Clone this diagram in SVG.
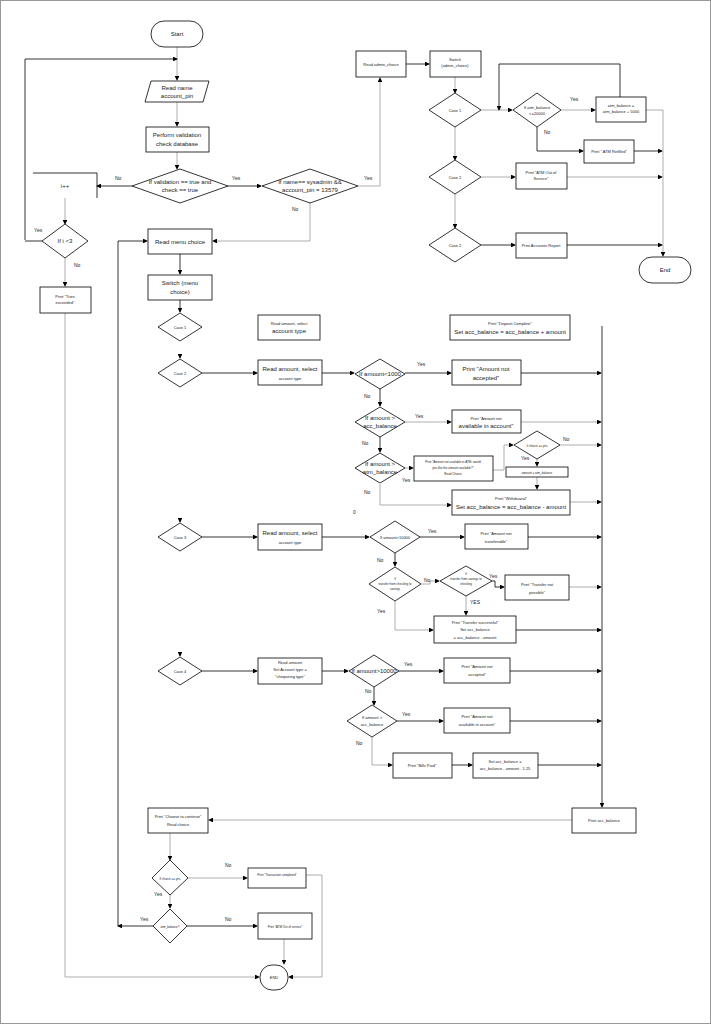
<svg xmlns="http://www.w3.org/2000/svg" width="711" height="1024" viewBox="0 0 711 1024">
<defs><marker id="a" markerWidth="6" markerHeight="6" refX="5" refY="3" orient="auto"><path d="M0,0L6,3L0,6z" fill="#000"/></marker></defs>
<style>
.n{fill:#fff;stroke:#000;stroke-width:0.8}
.c{fill:none;stroke:#000;stroke-width:0.8;marker-end:url(#a)}
.g{fill:none;stroke:#999;stroke-width:0.8;marker-end:url(#a)}
.p{fill:none;stroke:#000;stroke-width:0.8}
text{font-family:"Liberation Sans",Arial,sans-serif;font-size:6px;fill:#222;text-anchor:middle}
.s{font-size:4px}
.l{font-size:5px;text-anchor:start}
</style>
<rect x="0.5" y="0.5" width="710" height="1023" fill="#fff" stroke="#999"/>
<g id="connectors">
<path class="g" d="M177,47V80"/><path class="c" d="M25,240V59H177"/><path class="g" d="M177,102V126"/>
<path class="g" d="M177,152V169"/><path class="c" d="M132,186H97"/><path class="p" d="M33,173H97V198"/>
<path class="g" d="M65,198V224"/><path class="p" d="M42,241H25"/><path class="g" d="M65,258V286"/>
<path class="g" d="M65,313V977H259"/><path class="c" d="M228,186H261"/><path class="g" d="M310,203V241H213"/>
<path class="g" d="M358,186H380V78"/><path class="c" d="M406,64H429"/><path class="g" d="M455,77V93"/>
<path class="g" d="M455,127V160"/><path class="g" d="M455,194V228"/><path class="g" d="M481,110H512"/>
<path class="c" d="M620,97V64H499V110"/><path class="g" d="M561,110H595"/><path class="c" d="M537,127V151H583"/>
<path class="c" d="M634,151H662"/><path class="g" d="M646,110H663V256"/><path class="g" d="M481,177H515"/>
<path class="g" d="M567,177H662"/><path class="c" d="M481,245H515"/><path class="c" d="M567,245H662"/>
<path class="c" d="M118,926V241H147"/><path class="c" d="M180,254V274"/><path class="c" d="M180,300V312"/>
<path class="c" d="M180,357V358"/><path class="c" d="M180,520V522"/><path class="c" d="M180,654V656"/>
<path class="p" d="M602,326V806"/><path class="c" d="M602,806V807"/>
<path class="c" d="M202,373H257"/><path class="c" d="M322,373H354"/><path class="c" d="M405,373H451"/><path class="c" d="M521,373H601"/>
<path class="c" d="M380,389V406"/><path class="g" d="M405,422H451"/><path class="g" d="M521,422H601"/>
<path class="c" d="M380,437V452"/><path class="g" d="M405,468H413"/><path class="g" d="M493,470H504V445H513"/>
<path class="g" d="M560,445H601"/><path class="g" d="M537,459V466"/><path class="g" d="M537,477V489"/>
<path class="g" d="M380,484V505H451"/><path class="g" d="M570,502H601"/>
<path class="c" d="M202,537H257"/><path class="c" d="M322,537H369"/><path class="c" d="M420,537H464"/><path class="c" d="M528,537H601"/>
<path class="c" d="M395,553V566"/><path class="g" d="M421,584H430V581H439"/><path class="c" d="M492,581H495V587H504"/><path class="g" d="M569,587H601"/>
<path class="g" d="M466,596V615"/><path class="g" d="M395,601V630H433"/><path class="c" d="M516,630H601"/>
<path class="c" d="M202,671H257"/><path class="c" d="M322,671H348"/><path class="c" d="M399,671H443"/><path class="c" d="M510,671H601"/>
<path class="c" d="M374,687V705"/><path class="c" d="M397,721H443"/><path class="c" d="M510,721H601"/>
<path class="g" d="M372,737V765H392"/><path class="c" d="M452,765H472"/><path class="c" d="M538,765H601"/>
<path class="g" d="M572,820H209"/><path class="g" d="M170,833V860"/><path class="g" d="M188,878H247"/>
<path class="g" d="M306,875H322V977H289"/><path class="g" d="M170,895V908"/><path class="c" d="M153,926H118"/>
<path class="c" d="M187,926H257"/><path class="g" d="M284,939V964"/>
</g>
<g id="start"><rect class="n" x="151" y="21" width="52" height="26" rx="13"/><text x="177" y="36">Start</text></g>
<g id="readname"><path class="n" d="M151,81H209L203,102H145z"/><text x="177" y="90">Read name</text><text x="177" y="98">account_pin</text></g>
<g id="validate"><rect class="n" x="146" y="127" width="63" height="25"/><text x="177" y="137">Perform validation</text><text x="177" y="146">check database</text></g>
<g id="ifvalid"><path class="n" d="M180,169L228,186L180,203L132,186z"/><text x="180" y="184">If validation == true and</text><text x="180" y="192">check == true</text></g>
<g id="inc"><text x="65" y="188">i++</text></g>
<g id="ifsys"><path class="n" d="M310,169L358,186L310,203L262,186z"/><text x="310" y="184">If name== sysadmin &amp;&amp;</text><text x="310" y="192">account_pin = 13579</text></g>
<g id="ilt3"><path class="n" d="M65,224L88,241L65,258L42,241z"/><text x="65" y="243">If i &lt;3</text></g>
<g id="tries"><rect class="n" x="40" y="287" width="51" height="26"/><text x="65" y="298" class="s">Print "Tries</text><text x="65" y="304" class="s">exceeded"</text></g>
<g id="readadmin"><rect class="n" x="356" y="51" width="50" height="26"/><text x="381" y="66" class="s">Read admin_choice</text></g>
<g id="switchadmin"><rect class="n" x="430" y="51" width="51" height="26"/><text x="455" y="61" class="s">Switch</text><text x="455" y="67" class="s">(admin_choice)</text></g>
<g id="acase1"><path class="n" d="M455,93L481,110L455,127L429,110z"/><text x="455" y="112" class="s">Case 1</text></g>
<g id="acase2"><path class="n" d="M455,160L481,177L455,194L429,177z"/><text x="455" y="179" class="s">Case 2</text></g>
<g id="acase3"><path class="n" d="M455,228L481,245L455,262L429,245z"/><text x="455" y="247" class="s">Case 2</text></g>
<g id="ifatm"><path class="n" d="M537,93L561,110L537,127L513,110z"/><text x="537" y="109" class="s">If atm_balance</text><text x="537" y="115" class="s">&lt;=20000</text></g>
<g id="refill"><rect class="n" x="596" y="97" width="50" height="25"/><text x="621" y="107" class="s">atm_balance =</text><text x="621" y="113" class="s">atm_balance + 5000</text></g>
<g id="refilled"><rect class="n" x="584" y="140" width="50" height="23"/><text x="609" y="153" class="s">Print " ATM Refilled"</text></g>
<g id="outservice"><rect class="n" x="516" y="163" width="51" height="26"/><text x="541" y="174" class="s">Print "ATM Out of</text><text x="541" y="180" class="s">Service"</text></g>
<g id="report"><rect class="n" x="516" y="233" width="51" height="25"/><text x="541" y="247" class="s">Print Accounts Report</text></g>
<g id="endadmin"><rect class="n" x="639" y="257" width="52" height="26" rx="13"/><text x="665" y="272">End</text></g>
<g id="menu"><rect class="n" x="148" y="229" width="64" height="25"/><text x="180" y="244">Read menu choice</text></g>
<g id="switchmenu"><rect class="n" x="148" y="275" width="64" height="25"/><text x="180" y="285">Switch (menu</text><text x="180" y="294">choice)</text></g>
<g id="case1"><path class="n" d="M180,313L202,327L180,341L158,327z"/><text x="180" y="329" class="s">Case 1</text></g>
<g id="dep1"><rect class="n" x="258" y="315" width="62" height="25"/><text x="289" y="325" class="s">Read amount, select</text><text x="289" y="333">account type</text></g>
<g id="dep2"><rect class="n" x="450" y="315" width="120" height="25"/><text x="510" y="325" class="s">Print "Deposit Complete"</text><text x="510" y="334">Set acc_balance = acc_balance + amount</text></g>
<g id="case2"><path class="n" d="M180,359L202,373L180,387L158,373z"/><text x="180" y="375" class="s">Case 2</text></g>
<g id="wd1"><rect class="n" x="258" y="360" width="64" height="25"/><text x="290" y="371">Read amount, select</text><text x="290" y="380" class="s">account type</text></g>
<g id="wd2"><path class="n" d="M380,359L405,374L380,389L355,374z"/><text x="380" y="376">If amount&lt;1000</text></g>
<g id="wd3"><rect class="n" x="452" y="360" width="69" height="25"/><text x="486" y="371">Print "Amount not</text><text x="486" y="380">accepted"</text></g>
<g id="wd4"><path class="n" d="M380,407L405,422L380,437L355,422z"/><text x="380" y="420">If amount &gt;</text><text x="380" y="428">acc_balance</text></g>
<g id="wd5"><rect class="n" x="452" y="410" width="69" height="23"/><text x="486" y="420" class="s">Print "Amount not</text><text x="486" y="428">available in account"</text></g>
<g id="wd6"><path class="n" d="M380,453L405,468L380,483L355,468z"/><text x="380" y="466">If amount &gt;</text><text x="380" y="474">atm_balance</text></g>
<g id="wd7"><rect class="n" x="414" y="456" width="79" height="25"/><text x="453" y="463" style="font-size:3px">Print "Amount not available in ATM. would</text><text x="453" y="469" style="font-size:3px">you like the amount available?"</text><text x="453" y="475" style="font-size:3px">Read Choice</text></g>
<g id="wd8"><path class="n" d="M537,431L560,445L537,459L514,445z"/><text x="537" y="447" style="font-size:3px">if choice == yes</text></g>
<g id="wd9"><rect class="n" x="506" y="467" width="62" height="10"/><text x="537" y="474" style="font-size:3px">amount = atm_balance</text></g>
<g id="wd10"><rect class="n" x="452" y="490" width="118" height="25"/><text x="511" y="500" class="s">Print "Withdrawal"</text><text x="511" y="509">Set acc_balance = acc_balance - amount</text></g>
<g id="case3"><path class="n" d="M180,523L202,537L180,551L158,537z"/><text x="180" y="539" class="s">Case 3</text></g>
<g id="tr1"><rect class="n" x="258" y="524" width="64" height="26"/><text x="290" y="535">Read amount, select</text><text x="290" y="544" class="s">account type</text></g>
<g id="tr2"><path class="n" d="M395,521L420,537L395,553L370,537z"/><text x="395" y="539" class="s">If amount&gt;10000</text></g>
<g id="tr3"><rect class="n" x="465" y="524" width="63" height="25"/><text x="496" y="535" class="s">Print "Amount not</text><text x="496" y="543" class="s">transferable"</text></g>
<g id="tr4"><path class="n" d="M395,567L421,584L395,601L369,584z"/><text x="395" y="580" style="font-size:3px">if</text><text x="395" y="585" style="font-size:3px">transfer from checking to</text><text x="395" y="590" style="font-size:3px">savings</text></g>
<g id="tr5"><path class="n" d="M466,566L492,581L466,596L440,581z"/><text x="466" y="575" style="font-size:3px">if</text><text x="466" y="580" style="font-size:3px">transfer from savings to</text><text x="466" y="585" style="font-size:3px">checking</text></g>
<g id="tr6"><rect class="n" x="505" y="575" width="64" height="25"/><text x="537" y="586" class="s">Print "Transfer not</text><text x="537" y="594" class="s">possible"</text></g>
<g id="tr7"><rect class="n" x="434" y="616" width="82" height="27"/><text x="475" y="624" class="s">Print "Transfer successful"</text><text x="475" y="631" class="s">Set acc_balance</text><text x="475" y="639" class="s">= acc_balance - amount</text></g>
<g id="case4"><path class="n" d="M180,657L202,671L180,685L158,671z"/><text x="180" y="673" class="s">Case 4</text></g>
<g id="bp1"><rect class="n" x="258" y="658" width="64" height="26"/><text x="290" y="664" class="s">Read amount</text><text x="290" y="671" class="s">Set Account type =</text><text x="290" y="678" class="s">"chequeing type"</text></g>
<g id="bp2"><path class="n" d="M374,655L399,671L374,687L349,671z"/><text x="374" y="673">If amount&gt;10000</text></g>
<g id="bp3"><rect class="n" x="444" y="658" width="66" height="25"/><text x="477" y="668" class="s">Print "Amount not</text><text x="477" y="676" class="s">accepted"</text></g>
<g id="bp4"><path class="n" d="M372,705L397,721L372,737L347,721z"/><text x="372" y="719" class="s">If amount &gt;</text><text x="372" y="726" class="s">acc_balance</text></g>
<g id="bp5"><rect class="n" x="444" y="708" width="66" height="25"/><text x="477" y="718" class="s">Print "Amount not</text><text x="477" y="726" class="s">available in account"</text></g>
<g id="bp6"><rect class="n" x="393" y="753" width="59" height="25"/><text x="422" y="767" class="s">Print "Bills Paid"</text></g>
<g id="bp7"><rect class="n" x="473" y="753" width="65" height="25"/><text x="505" y="763" class="s">Set acc_balance =</text><text x="505" y="770" class="s">acc_balance - amount - 1.25</text></g>
<g id="printbal"><rect class="n" x="572" y="808" width="64" height="25"/><text x="604" y="822" class="s">Print acc_balance</text></g>
<g id="cont"><rect class="n" x="148" y="808" width="60" height="25"/><text x="178" y="818" class="s">Print "Choose to continue"</text><text x="178" y="826" class="s">Read choice</text></g>
<g id="ifyes"><path class="n" d="M170,860L188,878L170,895L152,878z"/><text x="170" y="880" style="font-size:3px">If choice == yes</text></g>
<g id="tcomp"><rect class="n" x="248" y="868" width="58" height="20"/><text x="277" y="876" style="font-size:3px">Print "Transaction completed"</text></g>
<g id="ifatmb"><path class="n" d="M170,909L187,926L170,943L153,926z"/><text x="170" y="928" style="font-size:3px">atm_balance?</text></g>
<g id="atmout"><rect class="n" x="258" y="913" width="54" height="26"/><text x="285" y="928" style="font-size:3px">Print "ATM Out of service"</text></g>
<g id="end"><rect class="n" x="260" y="965" width="28" height="25" rx="12"/><text x="274" y="979" class="s">END</text></g>
<g id="labels">
<text class="l" x="115" y="180">No</text><text class="l" x="232" y="180">Yes</text><text class="l" x="34" y="232">Yes</text><text class="l" x="74" y="267">No</text>
<text class="l" x="292" y="211">No</text><text class="l" x="364" y="180">Yes</text><text class="l" x="570" y="101">Yes</text><text class="l" x="544" y="134">No</text>
<text class="l" x="417" y="366">Yes</text><text class="l" x="364" y="398">No</text><text class="l" x="415" y="418">Yes</text><text class="l" x="362" y="445">No</text>
<text class="l" x="402" y="482">Yes</text><text class="l" x="364" y="494">No</text><text class="l" x="563" y="441">No</text><text class="l" x="521" y="460">Yes</text><text class="l" x="353" y="514">0</text>
<text class="l" x="428" y="533">Yes</text><text class="l" x="377" y="562">No</text><text class="l" x="424" y="582">No</text><text class="l" x="489" y="578">Yes</text><text class="l" x="470" y="604">YES</text><text class="l" x="377" y="613">Yes</text>
<text class="l" x="404" y="666">Yes</text><text class="l" x="365" y="693">No</text><text class="l" x="402" y="716">Yes</text><text class="l" x="356" y="745">No</text>
<text class="l" x="225" y="867">No</text><text class="l" x="154" y="896">Yes</text><text class="l" x="140" y="921">Yes</text><text class="l" x="225" y="921">No</text>
</g>
</svg>
